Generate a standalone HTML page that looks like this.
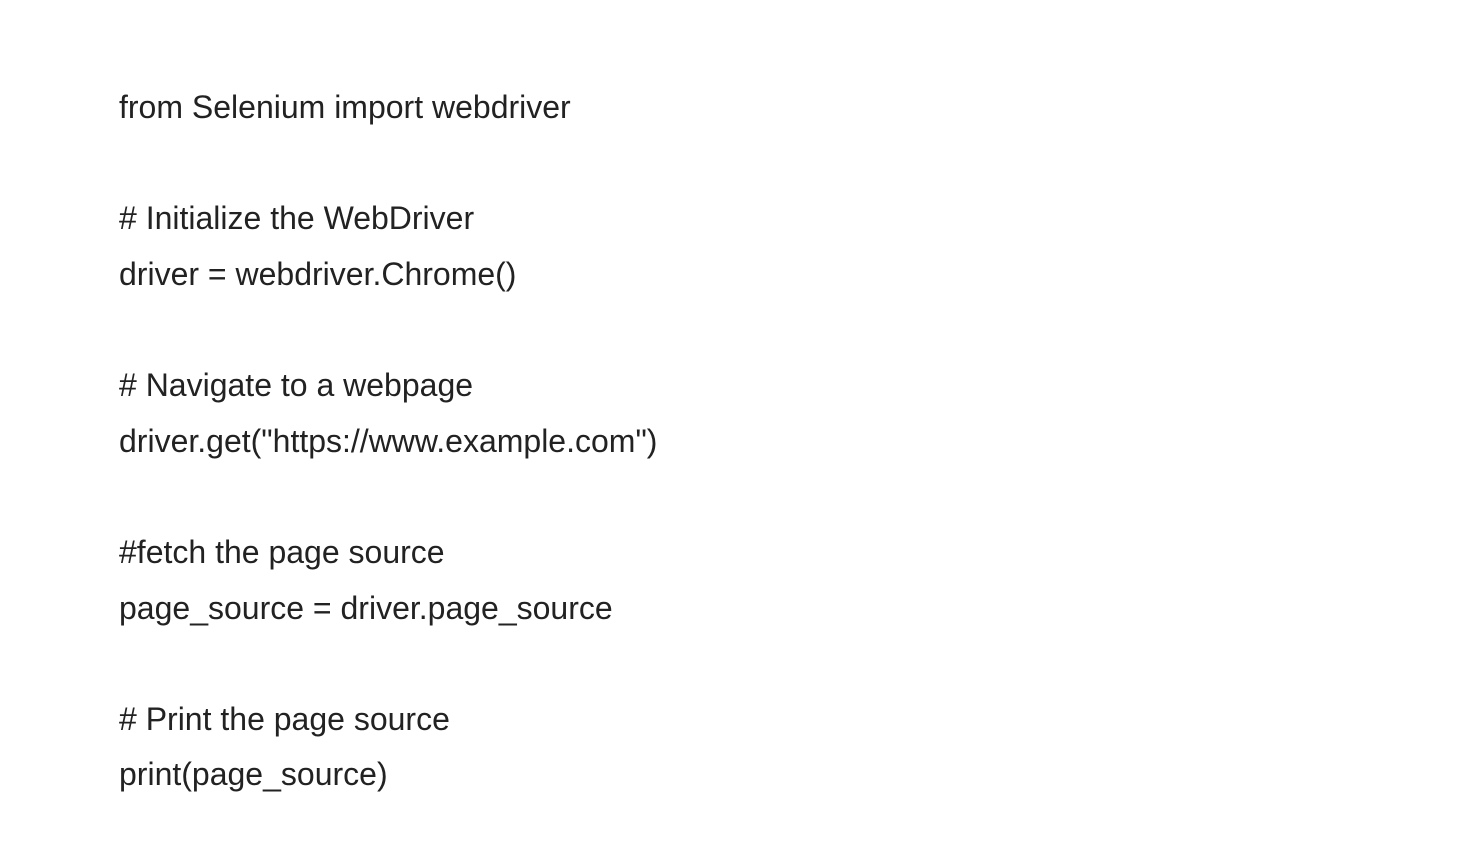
<!DOCTYPE html>
<html>
<head>
<meta charset="utf-8">
<style>
  html, body { margin:0; padding:0; background:#fff; }
  body { width:1462px; height:858px; position:relative; overflow:hidden;
         font-family:"Liberation Sans", Arial, sans-serif; font-size:32px; color:#222; }
  .l { position:absolute; left:119px; height:40px; line-height:40px; white-space:pre; }
</style>
</head>
<body>
<div class="l" style="top:87px">from Selenium import webdriver</div>
<div class="l" style="top:198px"># Initialize the WebDriver</div>
<div class="l" style="top:254px">driver = webdriver.Chrome()</div>
<div class="l" style="top:365px"># Navigate to a webpage</div>
<div class="l" style="top:421px">driver.get("https://www.example.com")</div>
<div class="l" style="top:532px">#fetch the page source</div>
<div class="l" style="top:588px">page_source = driver.page_source</div>
<div class="l" style="top:699px"># Print the page source</div>
<div class="l" style="top:754px">print(page_source)</div>
</body>
</html>
